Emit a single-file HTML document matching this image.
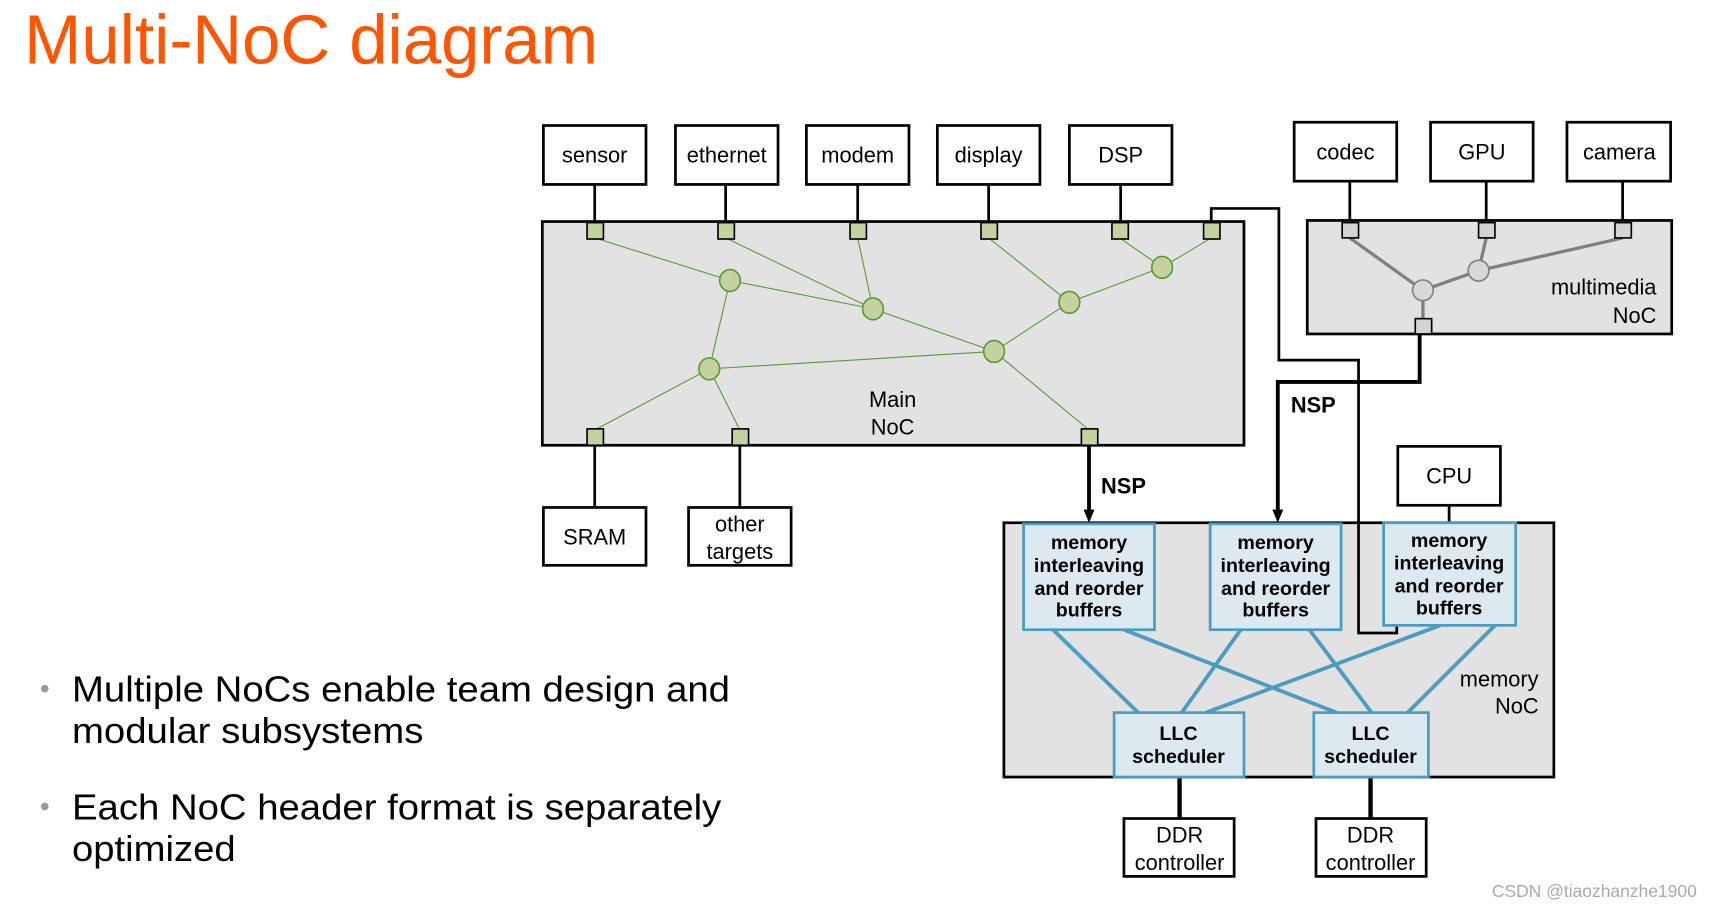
<!DOCTYPE html>
<html><head><meta charset="utf-8"><style>
html,body{margin:0;padding:0;background:#fff;}
svg{display:block;}
text{font-family:"Liberation Sans",Arial,sans-serif;}
</style></head><body>
<svg width="1711" height="908" viewBox="0 0 1568 832" preserveAspectRatio="none" xmlns="http://www.w3.org/2000/svg">
<text x="22" y="58" font-size="64" fill="#ff5500" textLength="526" lengthAdjust="spacingAndGlyphs">Multi-NoC diagram</text>

<g font-size="33" fill="#000">
<circle cx="41" cy="631" r="3.5" fill="#999"/>
<text x="66" y="643" textLength="603" lengthAdjust="spacingAndGlyphs">Multiple NoCs enable team design and</text>
<text x="66" y="681" textLength="322" lengthAdjust="spacingAndGlyphs">modular subsystems</text>
<circle cx="41" cy="739" r="3.5" fill="#999"/>
<text x="66" y="751" textLength="595" lengthAdjust="spacingAndGlyphs">Each NoC header format is separately</text>
<text x="66" y="789" textLength="150" lengthAdjust="spacingAndGlyphs">optimized</text>
</g>

<g stroke="#000" stroke-width="2.5" fill="none">
<line x1="545" y1="169" x2="545" y2="204"/>
<line x1="665" y1="169" x2="665" y2="204"/>
<line x1="786" y1="169" x2="786" y2="204"/>
<line x1="906" y1="169" x2="906" y2="204"/>
<line x1="1027" y1="169" x2="1027" y2="204"/>
<line x1="1237" y1="166" x2="1237" y2="204"/>
<line x1="1362" y1="166" x2="1362" y2="204"/>
<line x1="1487" y1="166" x2="1487" y2="204"/>
<line x1="545" y1="408" x2="545" y2="465"/>
<line x1="678" y1="408" x2="678" y2="465"/>
<line x1="1328" y1="463" x2="1328" y2="480"/>
<polyline points="1110,204 1110,191 1172,191 1172,330 1245,330 1245,580 1280,580 1280,573"/>
</g>

<rect x="497" y="203" width="643" height="205" fill="#e2e2e2" stroke="#000" stroke-width="2.5"/>
<g stroke="#5a9a3a" stroke-width="1">
<line x1="545" y1="218" x2="669" y2="257"/>
<line x1="665" y1="218" x2="800" y2="283"/>
<line x1="786" y1="218" x2="800" y2="283"/>
<line x1="669" y1="257" x2="800" y2="283"/>
<line x1="669" y1="257" x2="650" y2="338"/>
<line x1="800" y1="283" x2="911" y2="322"/>
<line x1="650" y1="338" x2="911" y2="322"/>
<line x1="906" y1="218" x2="980" y2="277"/>
<line x1="980" y1="277" x2="1065" y2="245"/>
<line x1="1026" y1="218" x2="1065" y2="245"/>
<line x1="1110" y1="218" x2="1065" y2="245"/>
<line x1="980" y1="277" x2="911" y2="322"/>
<line x1="650" y1="338" x2="545" y2="394"/>
<line x1="650" y1="338" x2="678" y2="394"/>
<line x1="911" y1="322" x2="998" y2="394"/>
</g>
<g fill="#c3d29f" stroke="#5a9a3a" stroke-width="1.5">
<ellipse cx="669" cy="257" rx="9.5" ry="10"/>
<ellipse cx="800" cy="283" rx="9.5" ry="10"/>
<ellipse cx="650" cy="338" rx="9.5" ry="10"/>
<ellipse cx="911" cy="322" rx="9.5" ry="10"/>
<ellipse cx="980" cy="277" rx="9.5" ry="10"/>
<ellipse cx="1065" cy="245" rx="9.5" ry="10"/>
</g>
<g fill="#c3d29f" stroke="#000" stroke-width="1.5">
<rect x="538" y="204" width="15" height="15"/>
<rect x="658" y="204" width="15" height="15"/>
<rect x="779" y="204" width="15" height="15"/>
<rect x="899" y="204" width="15" height="15"/>
<rect x="1019" y="204" width="15" height="15"/>
<rect x="1103" y="204" width="15" height="15"/>
<rect x="538" y="393" width="15" height="15"/>
<rect x="671" y="393" width="15" height="15"/>
<rect x="991" y="393" width="15" height="15"/>
</g>
<g font-size="20" text-anchor="middle"><text x="818" y="373">Main</text><text x="818" y="398">NoC</text></g>

<rect x="1198" y="202" width="334" height="104" fill="#e2e2e2" stroke="#000" stroke-width="2.5"/>
<g stroke="#808080" stroke-width="3">
<line x1="1237" y1="218" x2="1304" y2="266"/>
<line x1="1362" y1="218" x2="1355" y2="248"/>
<line x1="1487" y1="218" x2="1355" y2="248"/>
<line x1="1355" y1="248" x2="1304" y2="266"/>
<line x1="1304" y1="266" x2="1304" y2="292"/>
</g>
<g fill="#d8d8d8" stroke="#808080" stroke-width="1.5">
<circle cx="1304" cy="266" r="9.5"/><circle cx="1355" cy="248" r="9.5"/>
</g>
<g fill="#d4d4d4" stroke="#000" stroke-width="1.5">
<rect x="1230" y="204" width="15" height="14"/>
<rect x="1355" y="204" width="15" height="14"/>
<rect x="1480" y="204" width="15" height="14"/>
<rect x="1297" y="292" width="15" height="14"/>
</g>
<g font-size="20" text-anchor="end"><text x="1518" y="270">multimedia</text><text x="1518" y="296">NoC</text></g>

<g stroke="#000" stroke-width="3.5" fill="none">
<line x1="998" y1="408" x2="998" y2="468"/>
<polyline points="1301,306 1301,350 1171,350 1171,468"/>
</g>
<path d="M993,467 L1003,467 L998,479 z" fill="#000"/>
<path d="M1166,467 L1176,467 L1171,479 z" fill="#000"/>
<g font-size="20" font-weight="bold"><text x="1009" y="452">NSP</text><text x="1183" y="378">NSP</text></g>

<rect x="920" y="479" width="504" height="233" fill="#e2e2e2" stroke="#000" stroke-width="2.5"/>
<polyline points="1245,479 1245,580 1280,580 1280,573" stroke="#000" stroke-width="2.5" fill="none"/>
<g stroke="#4a9cc0" stroke-width="3.5">
<line x1="965" y1="577" x2="1043" y2="653"/>
<line x1="1030" y1="577" x2="1225" y2="653"/>
<line x1="1137" y1="577" x2="1083" y2="653"/>
<line x1="1200" y1="577" x2="1257" y2="653"/>
<line x1="1320" y1="573" x2="1105" y2="653"/>
<line x1="1370" y1="573" x2="1290" y2="653"/>
</g>
<g stroke="#000" stroke-width="4">
<line x1="1081" y1="712" x2="1081" y2="750"/>
<line x1="1256" y1="712" x2="1256" y2="750"/>
</g>
<g fill="#dce9f1" stroke="#4a9cc0" stroke-width="2.5">
<rect x="938" y="480" width="120" height="97"/>
<rect x="1109" y="480" width="120" height="97"/>
<rect x="1268" y="479" width="121" height="94"/>
<rect x="1021" y="653" width="119" height="59"/>
<rect x="1204" y="653" width="105" height="59"/>
</g>
<g font-size="18" font-weight="bold" text-anchor="middle">
<text x="998" y="503">memory</text><text x="998" y="524">interleaving</text><text x="998" y="545">and reorder</text><text x="998" y="565">buffers</text>
<text x="1169" y="503">memory</text><text x="1169" y="524">interleaving</text><text x="1169" y="545">and reorder</text><text x="1169" y="565">buffers</text>
<text x="1328" y="501">memory</text><text x="1328" y="522">interleaving</text><text x="1328" y="543">and reorder</text><text x="1328" y="563">buffers</text>
<text x="1080" y="678">LLC</text><text x="1080" y="699">scheduler</text>
<text x="1256" y="678">LLC</text><text x="1256" y="699">scheduler</text>
</g>
<g font-size="20" text-anchor="end"><text x="1410" y="629">memory</text><text x="1410" y="654">NoC</text></g>

<g fill="#fff" stroke="#000" stroke-width="2.5">
<rect x="498" y="115" width="94" height="54"/>
<rect x="619" y="115" width="94" height="54"/>
<rect x="739" y="115" width="94" height="54"/>
<rect x="859" y="115" width="94" height="54"/>
<rect x="980" y="115" width="94" height="54"/>
<rect x="1186" y="112" width="94" height="54"/>
<rect x="1311" y="112" width="94" height="54"/>
<rect x="1436" y="112" width="95" height="54"/>
<rect x="498" y="465" width="94" height="53"/>
<rect x="631" y="465" width="94" height="53"/>
<rect x="1281" y="409" width="94" height="54"/>
<rect x="1030" y="750" width="101" height="53"/>
<rect x="1206" y="750" width="101" height="53"/>
</g>
<g font-size="20" text-anchor="middle">
<text x="545" y="149">sensor</text><text x="666" y="149">ethernet</text><text x="786" y="149">modem</text><text x="906" y="149">display</text><text x="1027" y="149">DSP</text>
<text x="1233" y="146">codec</text><text x="1358" y="146">GPU</text><text x="1484" y="146">camera</text>
<text x="545" y="499">SRAM</text><text x="678" y="487">other</text><text x="678" y="512">targets</text>
<text x="1328" y="443">CPU</text>
<text x="1081" y="772">DDR</text><text x="1081" y="797">controller</text>
<text x="1256" y="772">DDR</text><text x="1256" y="797">controller</text>
</g>
<text x="1555" y="822" font-size="16" fill="#aaa" text-anchor="end">CSDN @tiaozhanzhe1900</text>
</svg>
</body></html>
